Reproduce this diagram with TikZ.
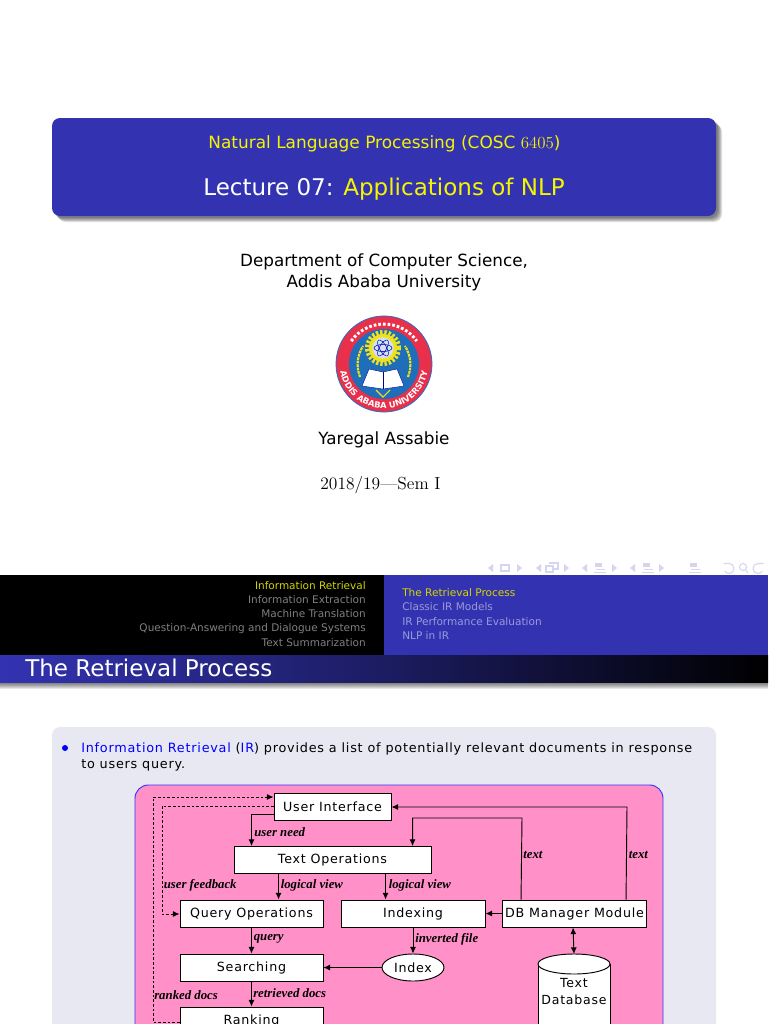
\documentclass[tikz,border=0pt]{standalone}
\usepackage{fontspec}
\usetikzlibrary{arrows.meta,shapes,calc,decorations.text}
\setsansfont{DejaVu Sans}
\newfontfamily\spaced[LetterSpace=6]{DejaVu Sans}
\newfontfamily\lblfont{Liberation Serif}
\definecolor{slideblue}{RGB}{51,51,178}
\definecolor{slideyellow}{RGB}{245,245,0}
\definecolor{navyellow}{RGB}{212,212,0}
\definecolor{pinkfill}{RGB}{255,145,200}
\definecolor{blockgray}{RGB}{232,232,243}
\definecolor{navblue}{RGB}{213,213,240}
\definecolor{logored}{RGB}{232,48,74}
\definecolor{logoblue}{RGB}{30,110,185}
\definecolor{logogold}{RGB}{240,225,30}
\tikzset{
  procbox/.style={draw,fill=white,line width=0.7pt,inner sep=0pt,minimum height=20.25pt,font=\spaced\fontsize{9.5}{11}\selectfont},
  edgelbl/.style={anchor=west,inner sep=0pt,font=\lblfont\bfseries\itshape\fontsize{9.6}{11}\selectfont},
  flow/.style={line width=0.7pt,-{Latex[length=5pt,width=4.5pt]}},
  feedback/.style={flow,dash pattern=on 2pt off 1.5pt},
  navtext/.style={anchor=east,inner sep=0pt,text=black!0!white!50!black,font=\sffamily\fontsize{7.87}{9}\selectfont},
  subtext/.style={anchor=west,inner sep=0pt,text=slideblue!50!white,font=\sffamily\fontsize{7.9}{9}\selectfont},
  navicon/.style={fill=navblue,draw=none},
  navline/.style={draw=navblue,line width=0.8pt}
}
\begin{document}
\begin{tikzpicture}[x=0.75pt,y=-0.75pt,>=Stealth]
  \useasboundingbox (0,0) rectangle (768,1024);
  \clip (0,0) rectangle (768,1024);

  % title box
  \foreach \d in {2,3,4,5,6}
    \fill[black,opacity=0.13,rounded corners=6pt] ({52+\d},{118+\d}) rectangle ({716+\d},{216+\d});
  \fill[slideblue,rounded corners=6pt] (52,118) rectangle (716,216);
  \node[text=slideyellow,font=\sffamily\fontsize{12.7}{14}\selectfont] (course) at (384.5,144) {Natural Language Processing (COSC {\rmfamily 6405})};
  \node[text=white,font=\sffamily\fontsize{17.26}{19}\selectfont] (lecture) at (384,189) {Lecture 07: \textcolor{slideyellow}{Applications of NLP}};

  \node[align=center,font=\sffamily\fontsize{12.6}{15.4}\selectfont] (dept) at (384,272.5) {Department of Computer Science,\\Addis Ababa University};
  \node[font=\sffamily\fontsize{12.6}{14}\selectfont] (author) at (384,440) {Yaregal Assabie};
  \node[font=\rmfamily\fontsize{13.1}{15}\selectfont] (date) at (380.5,485) {2018/19---Sem I};

  % logo
  \begin{scope}[shift={(384,364)},y=0.75pt]
    \fill[white] (0,0) circle (49);
    \draw[slideblue!70!cyan,line width=0.6pt,fill=logored] (0,0) circle (48);
    \fill[logoblue] (0,0) circle (35);
    \draw[logogold,line width=3pt,dash pattern=on 1.8pt off 1.4pt] (-1,16) circle (16);
    \draw[logogold,line width=2.6pt,fill=white!80!logoblue] (-1,16) circle (12.5);
    \draw[blue!70!black,line width=0.4pt] (-1,16) ellipse (9 and 3.5);
    \draw[blue!70!black,line width=0.4pt,rotate around={60:(-1,16)}] (-1,16) ellipse (9 and 3.5);
    \draw[blue!70!black,line width=0.4pt,rotate around={120:(-1,16)}] (-1,16) ellipse (9 and 3.5);
    \fill[white,draw=blue!60!black,line width=0.3pt] (-22,-22) -- (-15,-5) -- (-1,-8) -- (13,-5) -- (20,-22) -- (-1,-25) -- cycle;
    \draw[blue!60!black,line width=0.4pt] (-1,-8) -- (-1,-25);
    \draw[logogold,line width=1.6pt,dash pattern=on 2pt off 0.6pt] (-24,-13) .. controls (-28,-2) and (-27,8) .. (-21,18);
    \draw[logogold,line width=1.6pt,dash pattern=on 2pt off 0.6pt] (24,-13) .. controls (28,-2) and (27,8) .. (21,18);
    \draw[logogold,line width=0.8pt] (-8,-26) -- (-1,-33) -- (6,-26);
    \draw[white,line width=2.2pt,dash pattern=on 2pt off 1.5pt] (145:40) arc[start angle=145,end angle=35,radius=40];
    \path[decorate,decoration={text along path,text align=center,
      text={|\sffamily\bfseries\fontsize{6.3}{7}\selectfont\color{white}|ADDIS ABABA UNIVERSITY}}]
      (186:44.5) arc[start angle=186,end angle=354,radius=44.5];
  \end{scope}

  % navigation symbols
  \foreach \x in {490,538,584,632} \fill[navicon] ({\x+3},564) -- ({\x+3},572) -- ({\x-2},568) -- cycle;
  \foreach \x in {520,567,615,662} \fill[navicon] ({\x-3},564) -- ({\x-3},572) -- ({\x+2},568) -- cycle;
  \draw[navline] (501,565) rectangle (509,571);
  \draw[navline] (546,566) rectangle (553,572);
  \draw[navline] (549,563) -- (558,563) -- (558,569) -- (553,569);
  \foreach \x in {600,648,695} {
    \fill[navicon] ({\x-5},563) rectangle ({\x+2},567);
    \draw[navline] ({\x-4},569.5) -- ({\x+5},569.5);
    \draw[navline] ({\x-6},572.5) -- ({\x+6},572.5);
  }
  \draw[navline] (723.5,563.5) -- (729,563.5) arc[start angle=-90,end angle=150,radius=5];
  \draw[navline] (743,567) circle (3.5);
  \draw[navline] (745.5,569.5) -- (748,573);
  \draw[navline] (763.5,563.5) -- (758,563.5) arc[start angle=-90,end angle=-330,radius=5];

  % headline
  \fill[black] (0,575) rectangle (384,655);
  \fill[slideblue] (384,575) rectangle (768,655);
  \node[navtext,text=navyellow] (secone) at (366,585.5) {Information Retrieval};
  \node[navtext] (sectwo) at (366,599.8) {Information Extraction};
  \node[navtext] (secthree) at (366,614) {Machine Translation};
  \node[navtext] (secfour) at (366,628.8) {Question-Answering and Dialogue Systems};
  \node[navtext] (secfive) at (366,642.8) {Text Summarization};
  \node[subtext,text=navyellow] (subone) at (402,592.5) {The Retrieval Process};
  \node[subtext] (subtwo) at (402,606.8) {Classic IR Models};
  \node[subtext] (subthree) at (402,621.5) {IR Performance Evaluation};
  \node[subtext] (subfour) at (402,635.8) {NLP in IR};
  \foreach \d in {1,2,3,4,5,6,7}
    \fill[black,opacity=0.1] (0,682) rectangle (768,{682+\d});
  \shade[left color=slideblue,right color=black,middle color=slideblue!55!black] (0,655) rectangle (768,682);
  \node[anchor=west,inner sep=0pt,text=white,font=\sffamily\fontsize{17.26}{19}\selectfont] (frametitle) at (25,667.5) {The Retrieval Process};

  % block
  \fill[blockgray,rounded corners=6pt] (52,727) rectangle (716,1040);
  \fill[blue] (65,748) circle (3);
  \node[anchor=west,inner sep=0pt,font=\spaced\fontsize{9.6}{12}\selectfont] (lineone) at (81,748.5) {\textcolor{blue}{Information Retrieval} (\textcolor{blue}{IR}) provides a list of potentially relevant documents in response};
  \node[anchor=west,inner sep=0pt,font=\spaced\fontsize{9.6}{12}\selectfont] (linetwo) at (81,765.5) {to users query.};

  % pink panel
  \draw[blue!80!white,line width=0.7pt,fill=pinkfill,rounded corners=10pt] (135,785) rectangle (663,1060);

  % boxes
  \node[procbox,minimum width=87.75pt] (ui) at (332.5,806.5) {User Interface};
  \node[procbox,minimum width=147.75pt] (textop) at (332.5,860) {Text Operations};
  \node[procbox,minimum width=107.25pt] (queryop) at (251.5,913.5) {Query Operations};
  \node[procbox,minimum width=108pt] (indexing) at (413,913.5) {Indexing};
  \node[procbox,minimum width=107.25pt] (searching) at (251.5,967.5) {Searching};
  \node[procbox,minimum width=107.25pt,minimum height=20.25pt] (ranking) at (251.5,1020.5) {Ranking};
  \node[procbox,ellipse,minimum width=46.5pt] (index) at (413,967.5) {Index};
  \node[procbox,minimum width=108pt] (dbm) at (574.5,913.5) {DB Manager Module};

  % text database
  \draw[line width=0.7pt,fill=white] (538,964) -- (538,1040) -- (610,1040) -- (610,964);
  \draw[line width=0.7pt,fill=white] (574,964) ellipse (36 and 10);
  \node[align=center,inner sep=0pt,font=\spaced\fontsize{9.4}{12.4}\selectfont] (textdb) at (574,991.5) {Text\\Database};

  % helper points
  \coordinate (dbtop) at (574,954);
  \coordinate (dashl) at (153,797);
  \coordinate (dashb) at (153,1022);
  \coordinate (fbl) at (162,806);
  \coordinate (fbb) at (162,914);
  \coordinate (tlup) at (522,818);
  \coordinate (trup) at (627,807);

  % connectors
  \draw[flow] ($(ui.west)+(0,7.5)$) -| ($(textop.north west)+(18,0)$);
  \draw[flow] ($(textop.south west)+(45,0)$) -- ($(queryop.north west)+(99,0)$);
  \draw[flow] ($(textop.south west)+(152,0)$) -- ($(indexing.north west)+(45,0)$);
  \draw[flow] (queryop) -- (searching);
  \draw[flow] (searching) -- (ranking);
  \draw[flow] (indexing) -- (index);
  \draw[flow] (index) -- (searching);
  \draw[flow] (dbm) -- (indexing);
  \draw[flow] ($(dbm.north west)+(19,0)$) -- (tlup) -| ($(textop.north west)+(179,0)$);
  \draw[flow] ($(dbm.north west)+(124,0)$) -- (trup) -- (ui.east |- trup);
  \draw[flow,{Latex[length=5pt,width=4.5pt]}-{Latex[length=5pt,width=4.5pt]}] ($(dbm.south west)+(71,0)$) -- (dbtop);
  \draw[feedback] (ranking.west |- dashb) -- (dashb) -- (dashl) -- (ui.west |- dashl);
  \draw[feedback] (ui.west |- fbl) -- (fbl) -- (fbb) -- (queryop.west |- fbb);

  % edge labels
  \node[edgelbl] (lblneed) at (254,832) {user need};
  \node[edgelbl] (lblview) at (280.5,885.5) {logical view};
  \node[edgelbl] (lblviewb) at (388.5,885.5) {logical view};
  \node[edgelbl] (lblfeed) at (163.5,885.5) {user feedback};
  \node[edgelbl] (lblquery) at (253.5,939) {query};
  \node[edgelbl] (lblfile) at (415,939) {inverted file};
  \node[edgelbl] (lblret) at (253,993) {retrieved docs};
  \node[edgelbl] (lblrank) at (154,995) {ranked docs};
  \node[edgelbl] (lbltext) at (523,855) {text};
  \node[edgelbl] (lbltextb) at (628.5,855) {text};
\end{tikzpicture}
\end{document}
